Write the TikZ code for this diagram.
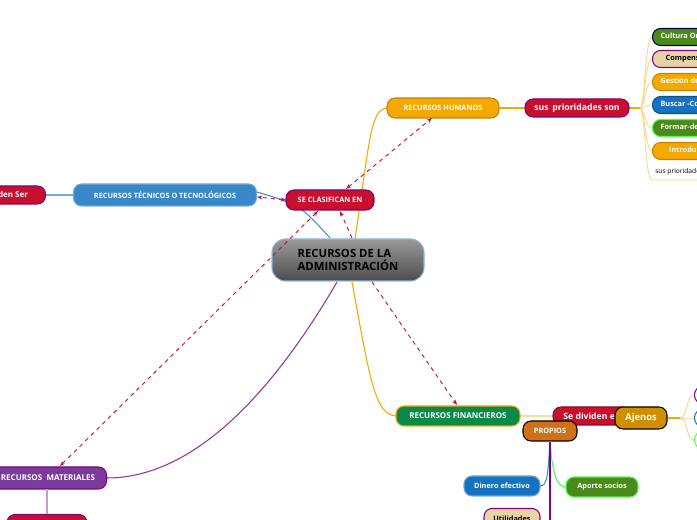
\documentclass[tikz,border=0pt]{standalone}
\usepackage{fontspec}
\setmainfont{Open Sans}
\usetikzlibrary{arrows.meta}
\definecolor{cred}{HTML}{C8102E}
\definecolor{corange}{HTML}{F5A800}
\definecolor{cblue}{HTML}{1572C0}
\definecolor{cgreen}{HTML}{4A8A1A}
\definecolor{cbeige}{HTML}{E8D3A6}
\definecolor{cpurple}{HTML}{7A3C9C}
\definecolor{cfin}{HTML}{0A8A4A}
\definecolor{cbrown}{HTML}{D0711A}
\tikzset{
 box/.style={rounded corners=6pt,draw,line width=0.8pt,text=white,font=\bfseries\fontsize{5.5}{6}\selectfont,inner sep=0pt,align=center},
 dashln/.style={draw=cred,dashed,line width=0.7pt,-{Stealth[length=4pt]}},
 conn/.style={line width=0.8pt}
}
\begin{document}
\begin{tikzpicture}[x=0.75pt,y=-0.75pt]
\useasboundingbox (0,0) rectangle (697,520);
\clip (0,0) rectangle (697,520);
% connectors from main
\draw[conn,cblue!80] (330,238) .. controls (300,205) .. (257,192);
\draw[conn,corange] (355,239) .. controls (370,140) and (370,108) .. (388,108);
\draw[conn,corange] (352,282) .. controls (370,380) and (375,416) .. (397,416);
\draw[conn,violet!80] (337,282) .. controls (280,380) and (200,478) .. (107,478);
% nodes
\node[box,minimum width=152*0.75,minimum height=42*0.75,rounded corners=10pt,draw=cblue!50,top color=gray!80,bottom color=gray!60!black,text=black,font=\bfseries\fontsize{8.5}{10}\selectfont,align=left] (main) at (348,260) {RECURSOS DE LA\\ADMINISTRACIÓN};
\node[box,minimum width=88*0.75,minimum height=20*0.75,fill=cred,draw=violet] (sc) at (330,200) {SE CLASIFICAN EN};
\node[box,minimum width=112*0.75,minimum height=20*0.75,fill=corange,draw=corange!80!black] (rh) at (443,108) {RECURSOS HUMANOS};
\node[box,minimum width=104*0.75,minimum height=18*0.75,fill=cred,draw=violet,font=\bfseries\fontsize{6.5}{7}\selectfont] (sp) at (577,108) {sus\, prioridades son};
\node[box,minimum width=183*0.75,minimum height=22*0.75,fill=cblue!85,draw=cblue!60] (rt) at (165,195) {RECURSOS TÉCNICOS O TECNOLÓGICOS};
\node[box,minimum width=80*0.75,minimum height=18*0.75,fill=cred,draw=violet,anchor=east,font=\bfseries\fontsize{6}{7}\selectfont] (ps) at (46,195) {Pueden Ser};
\node[box,minimum width=124*0.75,minimum height=20*0.75,fill=cfin,draw=corange,font=\bfseries\fontsize{6}{7}\selectfont] (rf) at (458,416) {RECURSOS FINANCIEROS};
\node[box,minimum width=117*0.75,minimum height=22*0.75,fill=cpurple,draw=violet,anchor=east,font=\bfseries\fontsize{6}{7}\selectfont] (rm) at (107,478) {RECURSOS\; MATERIALES};
\node[box,minimum width=80*0.75,minimum height=18*0.75,fill=cred,draw=violet,anchor=north] (rmc) at (47,514) {};
% priorities
\coordinate (fan) at (640,108);
\draw[conn,corange] (rh.east) -- (sp.west);
\draw[conn,corange] (sp.east) -- (fan);
\foreach \y/\n/\t/\f/\d/\tc in {37/p1/Cultura Organizacional/cgreen/blue!30!black/white,59/p2/Compensación/cbeige/violet/black,82/p3/Gestión del talento/corange/corange!80!black/white,105/p4/Buscar -Conservar/cblue/cblue!70!black/white,128/p5/Formar-desarrollar/cgreen/green!70/white,151/p6/Introducción/corange/corange!80!black/white}{
 \draw[corange!50,line width=0.6pt] (fan) .. controls (645,108) and (645,\y) .. (652,\y);
 \node[box,minimum width=60,minimum height=17*0.75,fill=\f,draw=\d,text=\tc,anchor=west,inner xsep=6pt] (\n) at (652,\y) {\fontsize{5.5}{6}\selectfont\strut\t};
}
\node[anchor=west,font=\fontsize{5}{6}\selectfont,inner sep=0pt] (p7) at (655,172) {sus prioridades son};
\draw[corange!50,line width=0.6pt] (fan) .. controls (645,108) and (645,180) .. (652,180) -- (697,180);
% financieros
\node[box,minimum width=78*0.75,minimum height=18*0.75,fill=cred,draw=cred!70!black,font=\bfseries\fontsize{6.5}{7}\selectfont] (sd) at (592,416) {Se dividen en};
\draw[conn,corange!40] (rf.east) -- (sd.west);
\node[box,minimum width=52*0.75,minimum height=22*0.75,fill=corange!85!black,draw=black,font=\bfseries\fontsize{7}{8}\selectfont] (aj) at (641,418) {Ajenos};
\coordinate (fan2) at (680,418);
\draw[conn,corange] (aj.east) -- (fan2);
\foreach \y/\n/\d in {395/a1/violet,418/a2/cblue,440/a3/green!70}{
 \node[box,minimum width=30*0.75,minimum height=17*0.75,fill=white,draw=\d,anchor=west] (\n) at (694,\y) {};
 \draw[corange!50,line width=0.6pt] (fan2) .. controls (688,418) and (686,\y) .. (\n.west);
}
\node[box,minimum width=54*0.75,minimum height=20*0.75,fill=cbrown,draw=black] (pr) at (550,431) {PROPIOS};
\node[box,minimum width=76*0.75,minimum height=20*0.75,fill=cblue,draw=cblue!60] (de) at (502,486) {Dinero efectivo};
\node[box,minimum width=72*0.75,minimum height=20*0.75,fill=cgreen,draw=green!70] (as) at (602,487) {Aporte socios};
\node[box,minimum width=56*0.75,minimum height=20*0.75,fill=cbeige,draw=violet,text=black,anchor=north] (ut) at (512,508) {Utilidades};
\draw[conn,cblue!80] (pr.south) .. controls (548,470) and (548,486) .. (de.east);
\draw[conn,green!70] (pr.south) .. controls (552,470) and (556,487) .. (as.west);
\draw[conn,violet] (pr.south) -- (550,520);
% other lines
\draw[conn,cblue!60] (rt.west) -- (ps.east);
\draw[conn,violet!40] (47,489) -- (rmc.north);
% dashed
\draw[dashln,{Stealth[length=4pt]}-{Stealth[length=4pt]}] (346,189) -- (432,118);
\draw[dashln] (352,238) -- (340,211);
\draw[dashln,{Stealth[length=4pt]}-{Stealth[length=4pt]}] (286,200) -- (257,197);
\draw[dashln,{Stealth[length=4pt]}-{Stealth[length=4pt]}] (318,211) -- (60,466);
\draw[dashln] (372,282) -- (457,405);
\end{tikzpicture}
\end{document}
